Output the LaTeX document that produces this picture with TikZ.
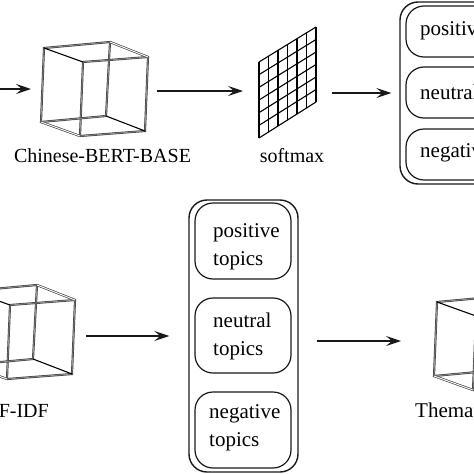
\documentclass[tikz,border=0pt]{standalone}
\usepackage{fontspec}
\setmainfont{Liberation Serif}
\usetikzlibrary{arrows.meta,positioning,calc}
\tikzset{
  flowarrow/.style={draw=black!90,line width=1.4pt,-{Stealth[length=15pt,width=10pt,inset=6pt]}},
  outerbox/.style={draw=black!90,line width=1.4pt,rounded corners=18pt,minimum width=#1,inner sep=0pt},
  topicbox/.style={draw=black!90,line width=1.2pt,rounded corners=18pt,inner sep=0pt},
  caption/.style={font=\fontsize{20}{24}\selectfont,inner sep=0pt},
  topiclabel/.style={font=\fontsize{21}{28}\selectfont,inner sep=0pt,anchor=west,align=left},
  holder/.style={inner sep=0pt,outer sep=0pt},
  cubeedge/.style={draw=black!75,line width=0.7pt,double=black!40,double distance=0.7pt},
  cubethin/.style={draw=black!70,line width=0.5pt,double=white,double distance=0.9pt},
  cubepic/.pic={
    % origin is the upper left corner of the cube
    \draw[cubeedge] (0,0) -- (66,-6) -- (104,9) -- (101,83) -- (36,88) -- (-3,74) -- cycle;
    \draw[cubeedge] (39,14) -- (104,9);
    \draw[cubeedge] (39,14) -- (36,88);
    \draw[cubeedge] (66,-6) -- (62,68);
    \draw[cubeedge] (-3,74) -- (62,68);
    \draw[cubethin] (66,-6) -- (104,9);
    \draw[cubethin] (-3,74) -- (36,88);
    \draw[black,line width=1.1pt] (0,0) -- (39,14);
    \draw[black,line width=1.1pt] (62,68) -- (101,83);
  }
}

\begin{document}
\begin{tikzpicture}[x=1pt,y=-1pt]
  \path[use as bounding box,clip] (0,0) rectangle (474,474);
  \fill[white] (0,0) rectangle (474,474);
  % upper row
  \coordinate (inleft) at (0,89);
  \node[holder,minimum width=126pt] (bertcube) at (94,91) {};
  \pic at (44,48) {cubepic};
  \node[caption,anchor=base] (bertname) at (102.5,162.5) {Chinese-BERT-BASE};
  \node[holder,minimum width=89pt] (softgrid) at (287.5,91) {};
  \foreach \i in {0,...,6}{
    \draw[black,line width=1.1pt] (259+\i*9.5,62-\i*5.83) -- (259+\i*9.5,138-\i*6);
    \draw[black,line width=1.1pt] (259,62+\i*12.67) -- (316,27+\i*12.5);
  }
  \node[caption,anchor=base] (softname) at (292,162.5) {softmax};
  \node[outerbox=120pt,minimum height=182pt] (sentbox) at (460,93) {};
  \node[topicbox,minimum width=100pt,minimum height=51pt] (sentpos) at (456,31.5) {};
  \node[topicbox,minimum width=100pt,minimum height=51pt] (sentneu) at (456,92.5) {};
  \node[topicbox,minimum width=100pt,minimum height=51pt] (sentneg) at (456,154.5) {};
  \node[topiclabel] (sentposname) at (420,31) {positive};
  \node[topiclabel] (sentneuname) at (420,92) {neutral};
  \node[topiclabel] (sentnegname) at (420,153) {negative};
  \draw[flowarrow] (inleft) -- (inleft -| bertcube.west);
  \draw[flowarrow] (bertcube.east) -- (softgrid.west);
  \draw[flowarrow,shorten >=8pt] (softgrid.east |- sentbox) -- (sentbox.west);
  % lower row
  \node[holder,minimum width=112pt] (tfcube) at (30,336) {};
  \pic at (-29,291) {cubepic};
  \node[caption,anchor=base east] (tfname) at (49,417) {TF-IDF};
  \node[outerbox=109pt,minimum height=272pt] (topicpanel) at (243.5,336) {};
  \node[topicbox,minimum width=96pt,minimum height=76pt] (toppos) at (243,241) {};
  \node[topicbox,minimum width=96pt,minimum height=75pt] (topneu) at (243,335.5) {};
  \node[topicbox,minimum width=96pt,minimum height=76pt] (topneg) at (243,430) {};
  \node[topiclabel] (topposname) at (213,247) {positive\\topics};
  \node[topiclabel] (topneuname) at (213,336) {neutral\\topics};
  \node[topiclabel] (topnegname) at (209,428) {negative\\topics};
  \node[holder,minimum width=118pt] (themacube) at (460,341) {};
  \pic at (437,302) {cubepic};
  \node[caption,anchor=base west,font=\fontsize{21}{24}\selectfont] (themaname) at (415,417) {Thematic};
  \draw[flowarrow,shorten >=19pt] (tfcube.east) -- (topicpanel.west);
  \draw[flowarrow,shorten <=18pt] (topicpanel.east |- themacube) -- (themacube.west);
\end{tikzpicture}
\end{document}
